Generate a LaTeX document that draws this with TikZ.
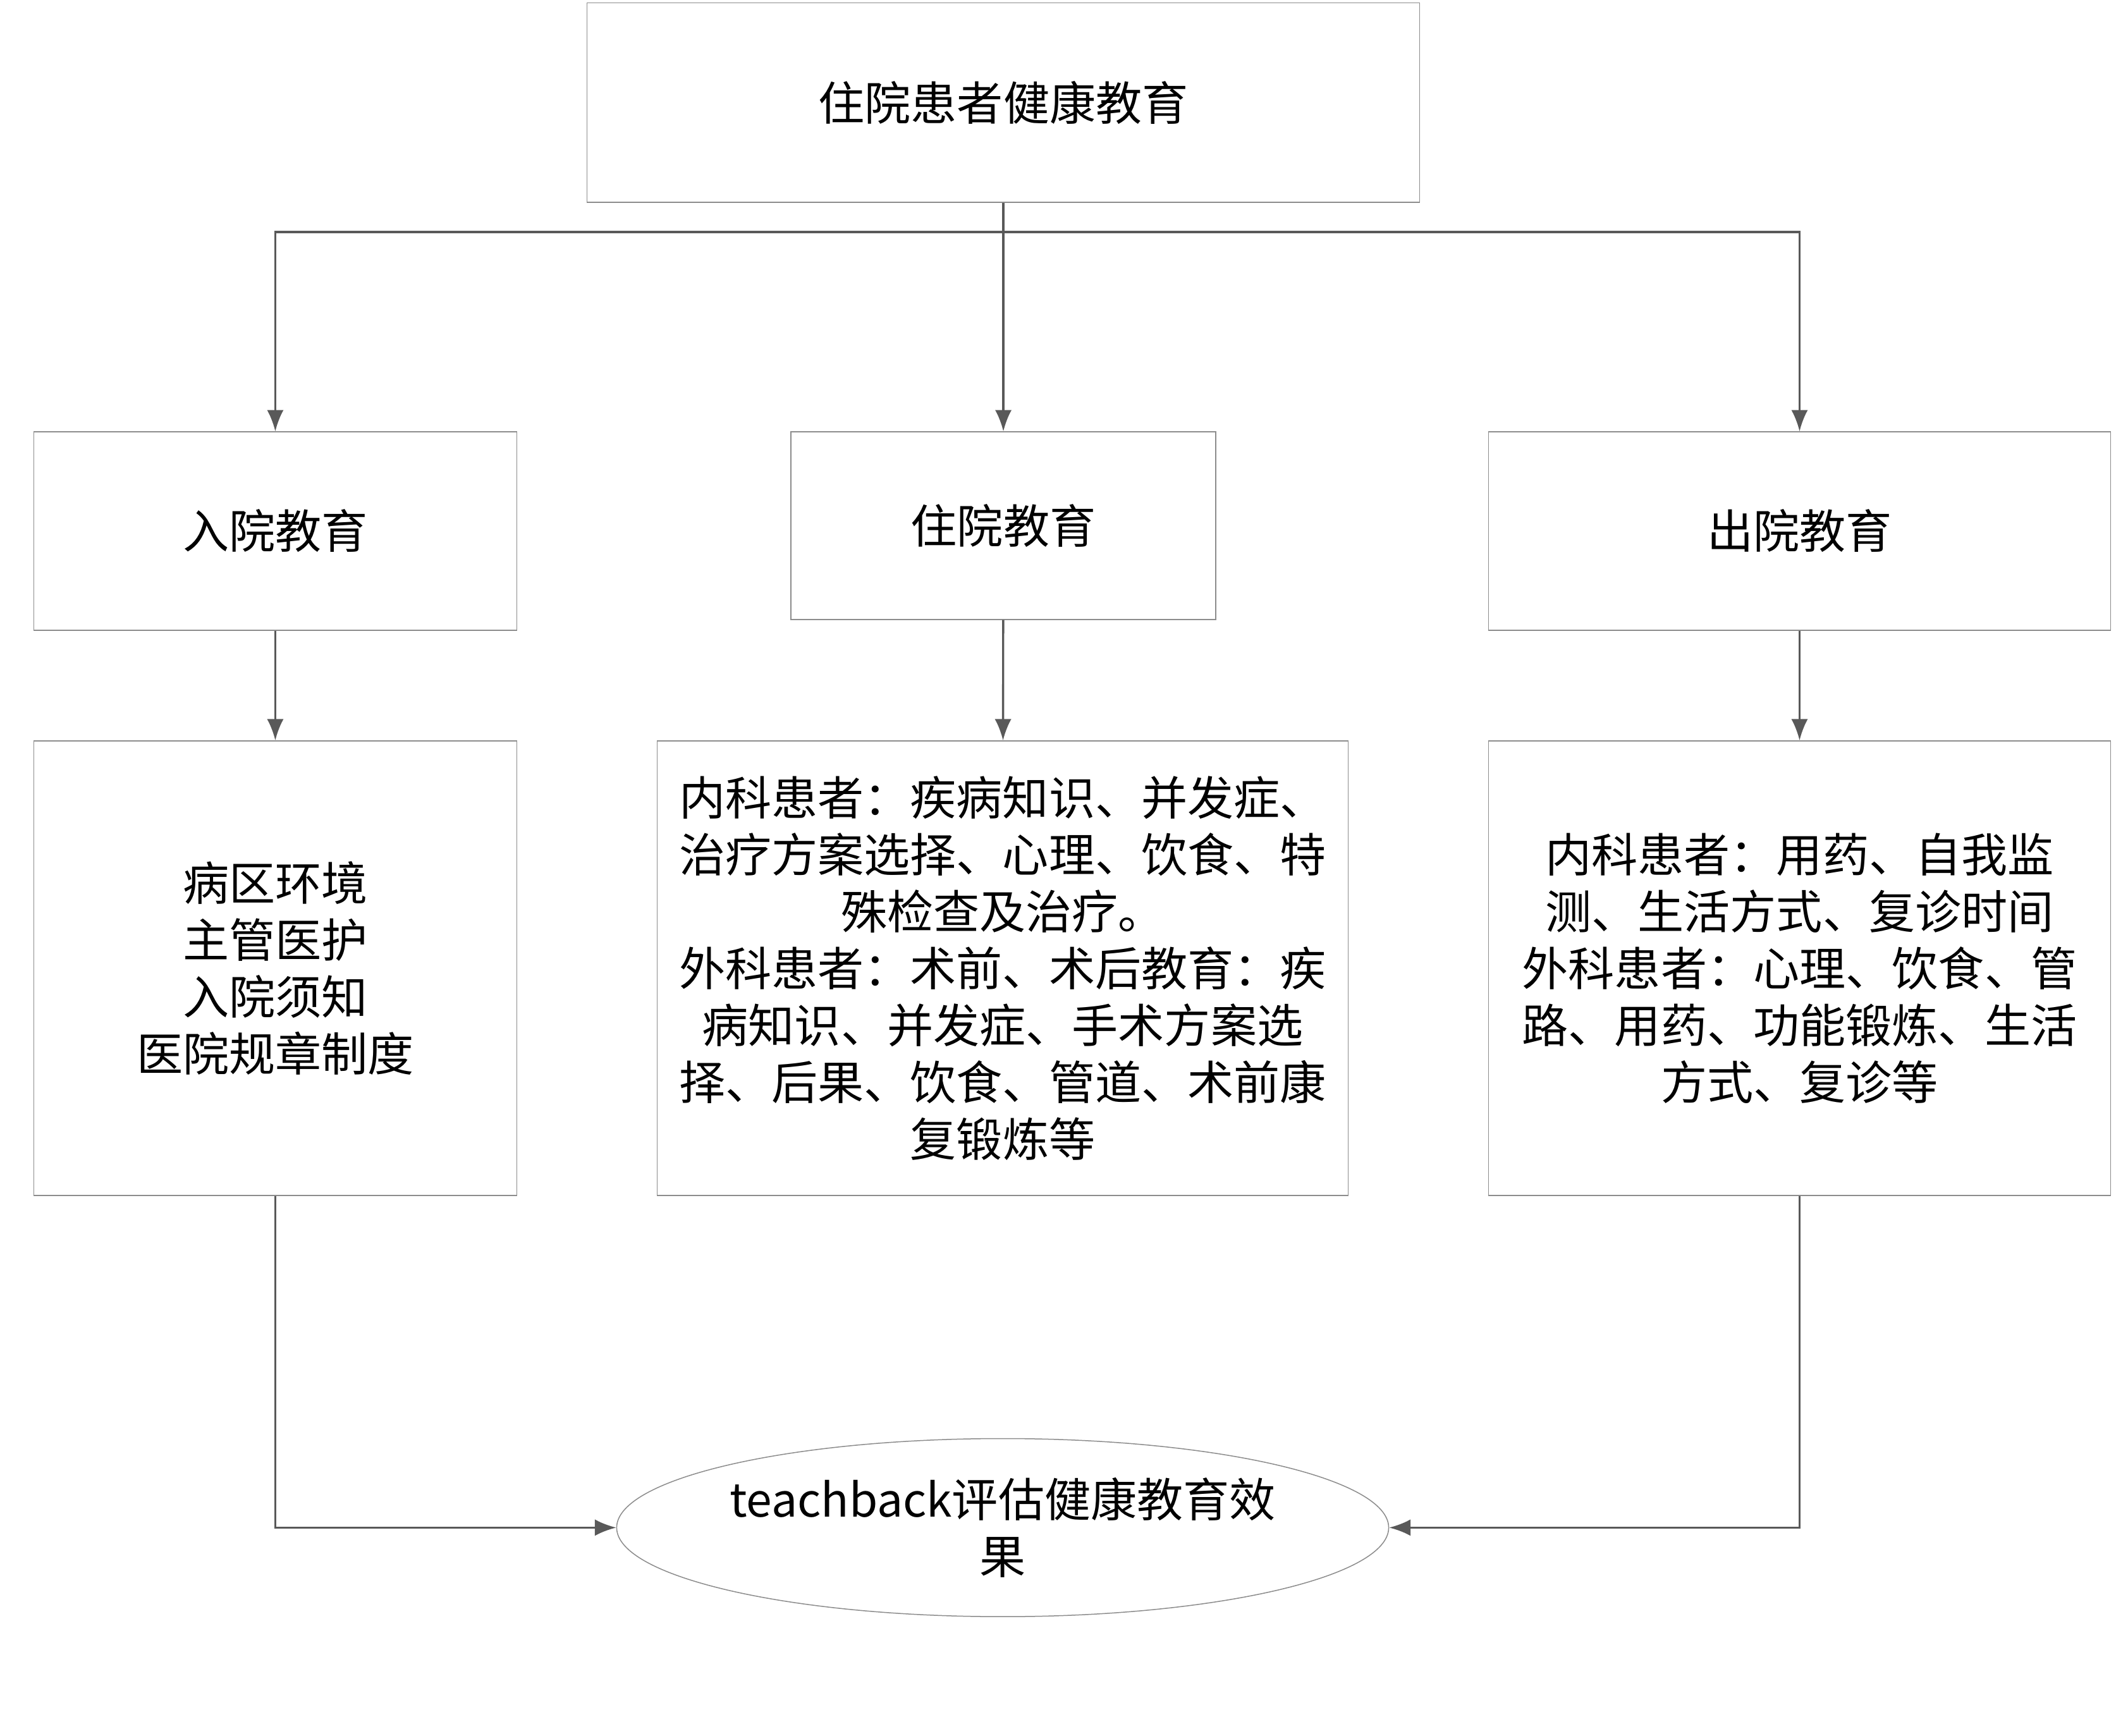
\documentclass[tikz,border=0pt]{standalone}
\usepackage{fontspec}
\setmainfont{Noto Sans CJK SC}
\usetikzlibrary{shapes.geometric,arrows.meta}
\begin{document}
\begin{tikzpicture}[x=0.02cm,y=-0.02cm,
  box/.style={draw=black!45,font=\fontsize{19.5}{24}\selectfont,align=center,inner sep=0pt},
  link/.style={draw=black!65,line width=0.9pt,-{Latex[length=9pt,width=7pt]}}]
\useasboundingbox (0,0) rectangle (1568,1286);

\node[box,minimum width=12.34cm,minimum height=2.96cm] (top) at (743.5,76){住院患者健康教育};

\node[box,minimum width=7.16cm,minimum height=2.94cm] (ry) at (204,393.5){入院教育};
\node[box,minimum width=6.3cm,minimum height=2.78cm] (zy) at (743.5,389.5){住院教育};
\node[box,minimum width=9.22cm,minimum height=2.94cm] (cy) at (1333.5,393.5){出院教育};

\node[box,minimum width=7.16cm,minimum height=6.74cm] (ryc) at (204,717.5){病区环境\\主管医护\\入院须知\\医院规章制度};
\node[box,minimum width=10.24cm,minimum height=6.74cm] (zyc) at (743,717.5){内科患者：疾病知识、并发症、\\治疗方案选择、心理、饮食、特\\殊检查及治疗。\\外科患者：术前、术后教育：疾\\病知识、并发症、手术方案选\\择、后果、饮食、管道、术前康\\复锻炼等};
\node[box,minimum width=9.22cm,minimum height=6.74cm] (cyc) at (1333.5,717.5){内科患者：用药、自我监\\测、生活方式、复诊时间\\外科患者：心理、饮食、管\\路、用药、功能锻炼、生活\\方式、复诊等};

\node[draw=black!45,ellipse,inner sep=0pt,minimum width=10.2cm,minimum height=2.64cm,font=\fontsize{19.5}{24}\selectfont,align=center] (pg) at (743,1132){teachback评估健康教育效\\果};

\coordinate (fork) at (743,172);
\draw[link] (top) -- (zy);
\draw[link] (fork) -| (ry);
\draw[link] (fork) -| (cy);
\draw[link] (ry) -- (ryc);
\draw[link] (zy) -- (zyc);
\draw[link] (cy) -- (cyc);
\draw[link] (ryc) |- (pg);
\draw[link] (cyc) |- (pg);
\end{tikzpicture}
\end{document}
